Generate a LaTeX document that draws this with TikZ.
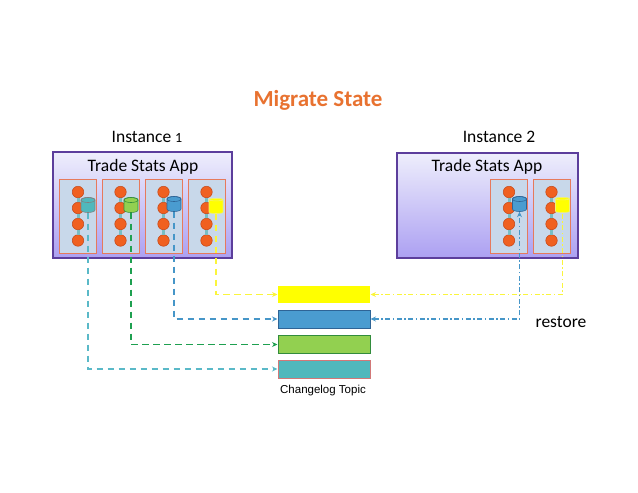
\documentclass[tikz,border=0pt]{standalone}
\usepackage{fontspec}
\setmainfont{Carlito}
\newfontfamily\arialfont{Liberation Sans}
\usetikzlibrary{arrows.meta}
\definecolor{titlec}{RGB}{232,114,48}
\definecolor{instb}{RGB}{92,62,156}
\definecolor{instt}{RGB}{238,238,252}
\definecolor{instbot}{RGB}{172,160,242}
\definecolor{partf}{RGB}{200,216,234}
\definecolor{partb}{RGB}{230,122,92}
\definecolor{ballf}{RGB}{240,96,32}
\definecolor{ballb}{RGB}{196,72,24}
\definecolor{linkc}{RGB}{120,190,196}
\definecolor{cteal}{RGB}{80,184,188}
\definecolor{ctealb}{RGB}{210,120,120}
\definecolor{cgreen}{RGB}{146,208,80}
\definecolor{cgreenb}{RGB}{50,140,60}
\definecolor{cblue}{RGB}{74,156,208}
\definecolor{cblueb}{RGB}{46,100,150}
\definecolor{cyellow}{RGB}{255,255,0}
\definecolor{cyellowb}{RGB}{240,240,120}
\definecolor{dteal}{RGB}{90,185,200}
\definecolor{dgreen}{RGB}{30,160,80}
\definecolor{dblue}{RGB}{70,150,200}
\definecolor{dyellow}{RGB}{250,245,60}
% cylinder: name, x, y, fill, draw, ellipse half-height
\newcommand\mycyl[6]{%
  \node[minimum width=14pt, minimum height=15pt, inner sep=0pt] (#1) at (#2,#3) {};
  \path[fill=#4, draw=#5, line width=0.6pt] ({#2-7},{#3-7.5+#6}) -- ({#2-7},{#3+7.5-#6})
     arc[start angle=180, end angle=0, x radius=7, y radius=#6]
     -- ({#2+7},{#3-7.5+#6})
     arc[start angle=0, end angle=-180, x radius=7, y radius=#6] -- cycle;
  \draw[draw=#5, line width=0.6pt] (#2,{#3-7.5+#6}) ellipse[x radius=7, y radius=#6];
}
\begin{document}
\begin{tikzpicture}[x=1pt,y=-1pt,
  inst/.style={draw=instb, line width=2.2pt, top color=instt, bottom color=instbot, inner sep=0pt},
  part/.style={draw=partb, line width=1pt, fill=partf, minimum width=37pt, minimum height=74pt, inner sep=0pt},
  ball/.style={circle, draw=ballb, fill=ballf, minimum size=11.5pt, inner sep=0pt, line width=0.5pt},
  linkline/.style={draw=linkc, line width=3pt},
  topic/.style={minimum width=92pt, minimum height=18pt, inner sep=0pt, line width=1pt},
  tip/.style={-{Stealth[length=5.5pt,width=5pt]}},
  flow/.style={line width=1.7pt, dash pattern=on 6.5pt off 4.5pt, tip},
  rflow/.style={line width=1.7pt, dash pattern=on 5pt off 2.5pt on 1.5pt off 2.5pt},
  lbl/.style={font=\fontsize{17.5}{20}\selectfont, text=black, inner sep=0pt}
]
\useasboundingbox (0,0) rectangle (638,493);

\node[text=titlec, font=\bfseries\fontsize{23}{27}\selectfont] (title) at (318,100) {Migrate State};

\node[lbl] (i1lbl) at (147,137) {Instance {\fontsize{14}{16}\selectfont 1}};
\node[lbl] (i2lbl) at (499,137) {Instance 2};

\node[inst, minimum width=179pt, minimum height=106pt] (inst1) at (142.5,205) {};
\node[inst, minimum width=181pt, minimum height=105pt] (inst2) at (487.5,205.5) {};

\node[lbl] (app1) at (143,167) {Trade Stats App};
\node[lbl] (app2) at (487,167) {Trade Stats App};

\foreach \i/\x in {1/78,2/120.5,3/163.5,4/206.5,5/509,6/551.5} {
  \node[part] (p\i) at (\x,216) {};
  \foreach \j/\y in {1/192,2/208,3/224,4/240.5}
    \node[ball] (b\i-\j) at (\x,\y) {};
  \draw[linkline] (b\i-1) -- (b\i-2);
  \draw[linkline] (b\i-2) -- (b\i-3);
  \draw[linkline] (b\i-3) -- (b\i-4);
}

\node[topic, fill=cyellow, minimum height=17pt] (t1) at (324,294.5) {};
\node[topic, fill=cblue, draw=cblueb] (t2) at (324,319) {};
\node[topic, fill=cgreen, draw=cgreenb] (t3) at (324,344.5) {};
\node[topic, fill=cteal, draw=ctealb] (t4) at (324,369) {};
\node[font=\arialfont\fontsize{11.5}{13}\selectfont] (cl) at (323,391) {Changelog Topic};
\node[lbl] (restore) at (561,322) {restore};

\mycyl{c1}{88}{205}{cteal}{gray}{2.5}
\mycyl{c2}{131}{205}{cgreen}{cgreenb}{2.5}
\mycyl{c3}{174}{204}{cblue}{cblueb}{2.5}
\mycyl{c4}{216}{206}{cyellow}{cyellowb}{1.2}
\mycyl{c5}{519.5}{204}{cblue}{cblueb}{2.5}
\mycyl{c6}{562.5}{205}{cyellow}{cyellowb}{1.2}

\draw[flow, draw=dteal] (c1.south) |- (t4.west);
\draw[flow, draw=dgreen] (c2.south) |- (t3.west);
\draw[flow, draw=dblue] (c3.south) |- (t2.west);
\draw[flow, draw=dyellow] (c4.south) |- (t1.west);
\draw[rflow, draw=dblue, {Stealth[length=5.5pt,width=5pt]}-{Stealth[length=5.5pt,width=5pt]}] (t2.east) -| (c5.south);
\draw[rflow, draw=dyellow, {Stealth[length=5.5pt,width=5pt]}-] (t1.east) -| (c6.south);
\end{tikzpicture}
\end{document}
